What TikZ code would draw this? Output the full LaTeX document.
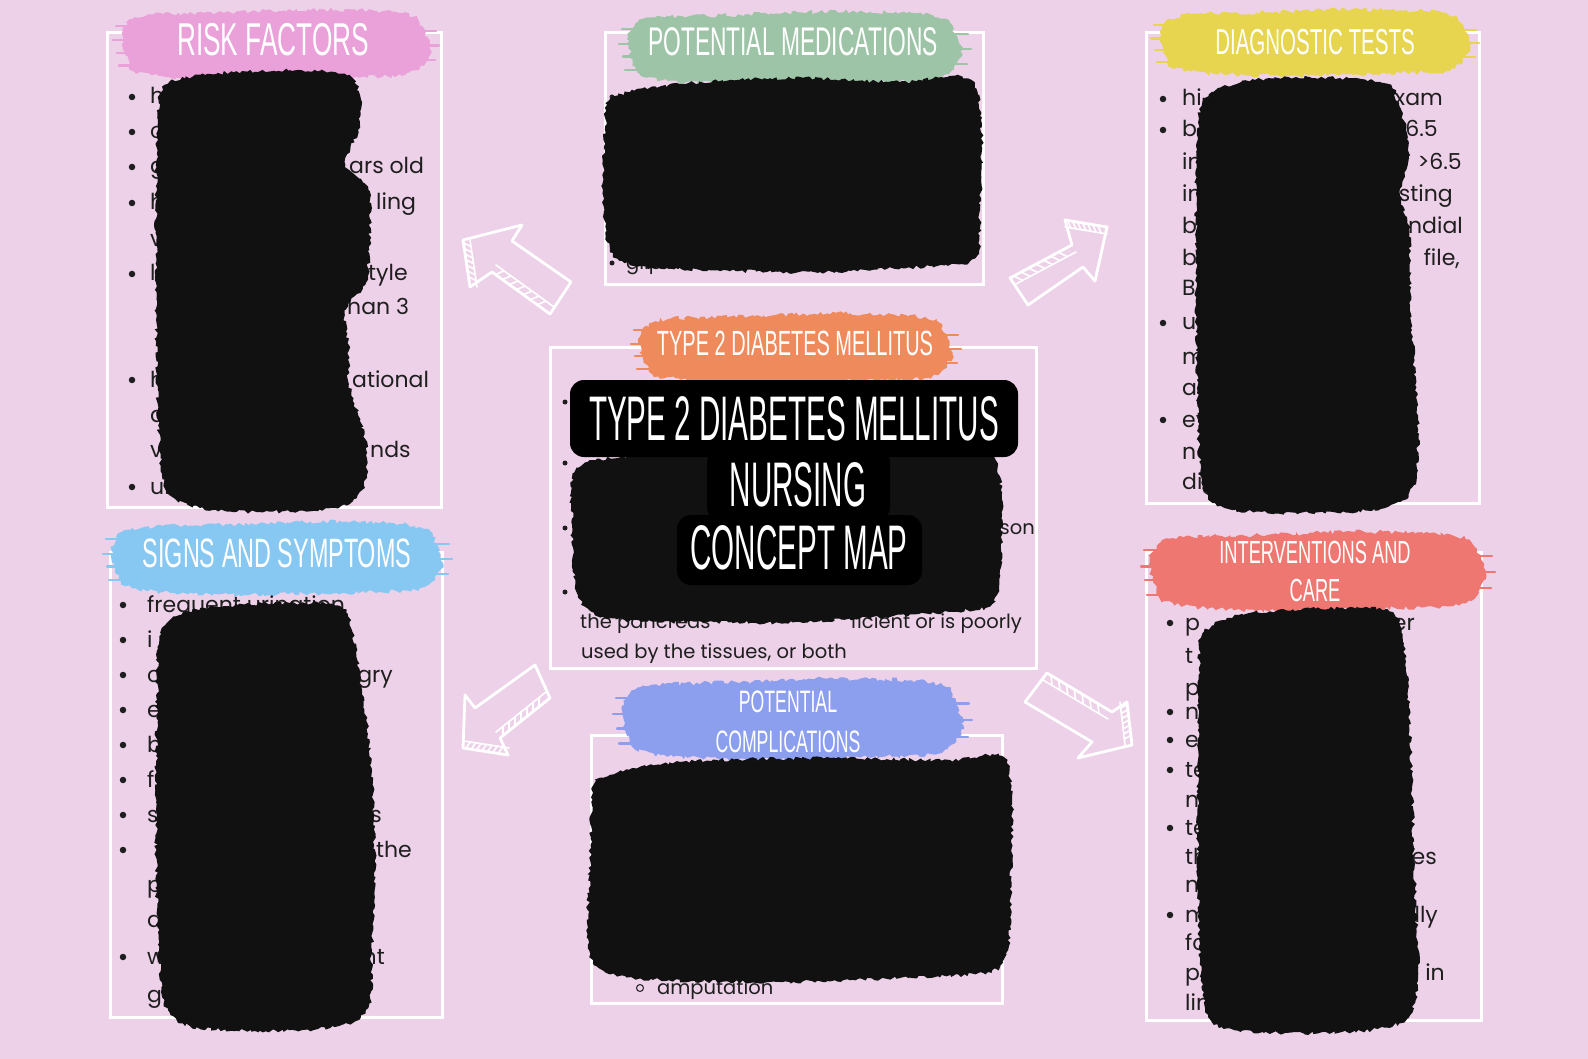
\documentclass[tikz,border=0pt]{standalone}
\usepackage{fontspec}
\usetikzlibrary{calc,decorations.pathmorphing}
\newfontfamily\bodyfont{Poppins}
\newfontfamily\headfont[FakeStretch=0.57]{Liberation Sans}
\newfontfamily\titlefont[FakeStretch=0.47]{Liberation Sans}
\definecolor{bg}{HTML}{EDD1E8}
\definecolor{ink}{HTML}{1E1E1E}
\definecolor{blobc}{HTML}{111111}
\definecolor{cpink}{HTML}{EAA0D8}
\definecolor{cgreen}{HTML}{9DC4A6}
\definecolor{cyellow}{HTML}{E7D54F}
\definecolor{corange}{HTML}{EE8A5B}
\definecolor{cblue}{HTML}{87C8F2}
\definecolor{cred}{HTML}{EE7771}
\definecolor{cperi}{HTML}{8C9EEE}
\newcommand\brush[5]{%
  \pgfmathsetmacro\bw{#4-#2}\pgfmathsetmacro\bh{#5-#3}%
  \fill[#1, rough] plot[smooth cycle, tension=0.3] coordinates {
    ({#2+0.00*\bw},{#3+0.35*\bh})
    ({#2+0.03*\bw},{#3+0.16*\bh})
    ({#2+0.10*\bw},{#3+0.09*\bh})
    ({#2+0.35*\bw},{#3+0.06*\bh})
    ({#2+0.60*\bw},{#3+0.02*\bh})
    ({#2+0.85*\bw},{#3+0.04*\bh})
    ({#2+0.95*\bw},{#3+0.12*\bh})
    ({#2+0.985*\bw},{#3+0.35*\bh})
    ({#2+1.00*\bw},{#3+0.58*\bh})
    ({#2+0.975*\bw},{#3+0.80*\bh})
    ({#2+0.92*\bw},{#3+0.93*\bh})
    ({#2+0.70*\bw},{#3+0.97*\bh})
    ({#2+0.40*\bw},{#3+1.00*\bh})
    ({#2+0.15*\bw},{#3+0.96*\bh})
    ({#2+0.04*\bw},{#3+0.88*\bh})
    ({#2+0.01*\bw},{#3+0.65*\bh})
  };
  \foreach \s/\a in {0.25/-6,0.45/-9,0.62/-5,0.80/-3}
    \draw[#1, line width=2.2pt, line cap=round] ({#2+\a},{#3+\s*\bh}) -- ({#2+22},{#3+\s*\bh});
  \foreach \s/\a in {0.32/6,0.52/9,0.72/5}
    \draw[#1, line width=2.2pt, line cap=round] ({#4+\a},{#3+\s*\bh}) -- ({#4-22},{#3+\s*\bh});
}
\newcommand\ahatch[4]{%
  \draw[athin] ($(#1)+(#3,#4)$) -- ($(#2)+(#3,#4)$);
  \foreach \t in {0.06,0.18,...,0.84}{\pgfmathsetmacro\u{\t+0.08}
    \draw[athin] ($(#1)!\t!(#2)$) -- ($(#1)!\u!(#2)+(#3,#4)$);}}
\begin{document}
\begin{tikzpicture}[x=1pt,y=-1pt,
  box/.style={draw=white, line width=3pt, inner sep=0pt},
  rough/.style={decorate, decoration={random steps, segment length=3pt, amplitude=2.2pt}},
  blob/.style={fill=blobc, decorate, decoration={random steps, segment length=3pt, amplitude=1.8pt}},
  head/.style n args={2}{text=white, inner sep=0pt, align=center, font=\headfont\fontsize{#1}{#2}\selectfont},
  fl/.style={font=\bodyfont\fontsize{22}{26}\selectfont, text=ink, inner sep=0pt, anchor=base west},
  fr/.style={font=\bodyfont\fontsize{22}{26}\selectfont, text=ink, inner sep=0pt, anchor=base east},
  cl/.style={font=\bodyfont\fontsize{19.5}{24}\selectfont, text=ink, inner sep=0pt, anchor=base west},
  cr/.style={font=\bodyfont\fontsize{19.5}{24}\selectfont, text=ink, inner sep=0pt, anchor=base east},
  bul/.style={circle, fill=ink, minimum size=6.5pt, inner sep=0pt},
  sbul/.style={circle, fill=ink, minimum size=5pt, inner sep=0pt},
  titlebox/.style={fill=black, rounded corners=14pt, inner sep=0pt},
  ttext/.style={text=white, inner sep=0pt, font=\titlefont\fontsize{63}{70}\selectfont},
  aline/.style={draw=white, line width=2.8pt, line join=round, line cap=round},
  athin/.style={draw=white, line width=1.6pt, line cap=round}]
\useasboundingbox (0,0) rectangle (1588,1059);
\pgfmathsetseed{11}
\fill[bg] (0,0) rectangle (1588,1059);

% ---- white frames
\node[box, minimum width=334pt, minimum height=474pt] (rf) at (274,270) {};
\node[box, minimum width=333pt, minimum height=470pt] (dt) at (1313,268) {};
\node[box, minimum width=378pt, minimum height=252pt] (pm) at (794,159) {};
\node[box, minimum width=486pt, minimum height=320pt] (t2) at (793,508) {};
\node[box, minimum width=332pt, minimum height=465pt] (ss) at (276,785) {};
\node[box, minimum width=335pt, minimum height=468pt] (ic) at (1314,786) {};
\node[box, minimum width=411pt, minimum height=268pt] (pc) at (797,869) {};

% ---- brush strokes
\brush{cpink}{122}{8}{430}{80}
\brush{cyellow}{1160}{8}{1470}{76}
\brush{cgreen}{628}{10}{962}{85}
\brush{corange}{640}{312}{952}{383}
\brush{cblue}{112}{520}{443}{595}
\brush{cred}{1150}{530}{1486}{611}
\brush{cperi}{622}{677}{963}{760}

% ---- headers
\node[head={46}{50}] (hrf) at (273,40) {RISK FACTORS};
\node[head={36}{40}] (hdt) at (1315,42) {DIAGNOSTIC TESTS};
\node[head={40}{44}] (hpm) at (793,42) {POTENTIAL MEDICATIONS};
\node[head={35}{38}] (ht2) at (795,343) {TYPE 2 DIABETES MELLITUS};
\node[head={41}{44}] (hss) at (277,553) {SIGNS AND SYMPTOMS};
\node[head={32}{38}] (hic) at (1315,571) {INTERVENTIONS AND\\CARE};
\node[head={31}{40}] (hpc) at (788,722) {POTENTIAL\\COMPLICATIONS};

% ---- risk factors fragments
\foreach \i/\y in {1/97,2/132,3/167,4/203,5/274,6/380,7/487}
  \node[bul] (rfb\i) at (132,\y) {};
\node[fl] (rf1) at (150,104) {h};
\node[fl] (rf2) at (150,139) {c};
\node[fl] (rf3) at (150,174) {g};
\node[fl] (rf3b) at (349,174) {ars old};
\node[fl] (rf4) at (150,210) {h};
\node[fl] (rf4b) at (376,210) {ling};
\node[fl] (rf5) at (150,247) {v};
\node[fl] (rf6) at (150,281) {l};
\node[fl] (rf6b) at (368,281) {tyle};
\node[fl] (rf7b) at (347,315) {han 3};
\node[fl] (rf8) at (150,387) {h};
\node[fl] (rf8b) at (352,387) {ational};
\node[fl] (rf9) at (150,422) {d};
\node[fl] (rf10) at (150,457) {v};
\node[fl] (rf10b) at (370,457) {nds};
\node[fl] (rf11) at (150,494) {un};

% ---- diagnostic tests fragments
\foreach \i/\y in {1/99,2/130,3/323,4/420}
  \node[bul] (dtb\i) at (1163,\y) {};
\node[fl] (dt1) at (1182,106) {hi};
\node[fr] (dt1b) at (1443,106) {exam};
\node[fl] (dt2) at (1182,137) {b};
\node[fr] (dt2b) at (1438,137) {6.5};
\node[fl] (dt3) at (1182,170) {in};
\node[fr] (dt3b) at (1462,170) {>6.5};
\node[fl] (dt4) at (1182,202) {in};
\node[fr] (dt4b) at (1453,202) {sting};
\node[fl] (dt5) at (1182,234) {bl};
\node[fr] (dt5b) at (1463,234) {ndial};
\node[fl] (dt6) at (1182,266) {b};
\node[fr] (dt6b) at (1460,266) {file,};
\node[fl] (dt7) at (1182,296) {B};
\node[fl] (dt8) at (1182,330) {u};
\node[fl] (dt9) at (1182,364) {m};
\node[fl] (dt10) at (1182,395) {ac};
\node[fl] (dt11) at (1182,427) {ey};
\node[fl] (dt12) at (1182,459) {ne};
\node[fl] (dt13) at (1182,489) {dig};

% ---- signs and symptoms fragments
\foreach \i/\y in {1/605,2/640,3/675,4/710,5/745,6/780,7/815,8/850,9/957}
  \node[bul] (ssb\i) at (123,\y) {};
\node[fl] (ss1) at (147,612) {frequent urination};
\node[fl] (ss2) at (147,647) {i};
\node[fl] (ss3) at (147,682) {c};
\node[fr] (ss3b) at (393,682) {gry};
\node[fl] (ss4) at (147,717) {e};
\node[fl] (ss5) at (147,752) {b};
\node[fl] (ss6) at (147,787) {f};
\node[fl] (ss7) at (147,822) {s};
\node[fr] (ss7b) at (382,822) {s};
\node[fr] (ss8b) at (412,857) {the};
\node[fl] (ss9) at (147,892) {p};
\node[fl] (ss10) at (147,927) {a};
\node[fl] (ss11) at (147,964) {w};
\node[fr] (ss11b) at (385,964) {nt};
\node[fl] (ss12) at (147,1002) {g};

% ---- interventions fragments
\foreach \i/\y in {1/623,2/712,3/740,4/770,5/828,6/915}
  \node[bul] (icb\i) at (1170,\y) {};
\node[fl] (ic1) at (1185,630) {p};
\node[fr] (ic1b) at (1415,630) {er};
\node[fl] (ic2) at (1185,663) {t};
\node[fl] (ic3) at (1185,695) {p};
\node[fl] (ic4) at (1185,719) {nu};
\node[fl] (ic5) at (1185,747) {ex};
\node[fl] (ic6) at (1185,777) {te};
\node[fl] (ic7) at (1185,807) {m};
\node[fl] (ic8) at (1185,835) {te};
\node[fl] (ic9) at (1185,864) {th};
\node[fr] (ic9b) at (1437,864) {es};
\node[fl] (ic10) at (1185,892) {m};
\node[fl] (ic11) at (1185,922) {m};
\node[fr] (ic11b) at (1438,922) {lly};
\node[fl] (ic12) at (1185,950) {foc};
\node[fl] (ic13) at (1185,980) {pe};
\node[fr] (ic13b) at (1445,980) {in};
\node[fl] (ic14) at (1185,1010) {lim};

% ---- center box fragments
\foreach \i/\y in {1/402,2/463,3/528,4/592}
  \node[sbul] (cbb\i) at (565,\y) {};
\node[cl] (c1) at (580,407) {f};
\node[cr] (c2) at (1035,534) {son};
\node[cl] (c3) at (580,628) {the pancreas};
\node[cr] (c3b) at (1022,628) {ficient or is poorly};
\node[cl] (c4) at (581,658) {used by the tissues, or both};

% ---- medications / complications fragments
\node[sbul] (pmb1) at (612,97) {};
\node[sbul] (pmb2) at (612,263) {};
\node[cl] (pm1) at (626,270) {glipizide};
\node[circle, draw=ink, line width=1pt, minimum size=7pt, inner sep=0pt] (pcb) at (640,988) {};
\node[cl] (pc1) at (657,994) {amputation};

% ---- black blobs
\fill[blob] plot[smooth cycle, tension=0.5] coordinates {(165,85) (210,74) (290,70) (345,74) (360,95) (358,130) (346,165) (368,190) (370,240) (365,285) (345,310) (349,350) (349,384) (360,420) (367,453) (362,490) (335,508) (260,512) (200,508) (166,490) (158,420) (156,320) (156,200) (158,120)};
\fill[blob] plot[smooth cycle, tension=0.5] coordinates {(1205,98) (1255,80) (1340,78) (1388,84) (1396,100) (1406,130) (1408,163) (1400,195) (1410,227) (1410,259) (1412,330) (1418,420) (1414,485) (1385,508) (1300,513) (1225,508) (1202,480) (1197,380) (1196,260) (1197,150)};
\fill[blob] plot[smooth cycle, tension=0.5] coordinates {(612,98) (680,84) (790,78) (900,82) (955,76) (976,88) (982,140) (980,210) (975,258) (930,266) (820,272) (700,270) (640,266) (610,250) (603,190) (605,130)};
\fill[blob] plot[smooth cycle, tension=0.5] coordinates {(578,468) (650,454) (800,448) (950,450) (992,456) (1002,500) (1000,570) (992,604) (950,612) (800,622) (680,622) (605,618) (578,595) (572,525)};
\fill[blob] plot[smooth cycle, tension=0.5] coordinates {(162,628) (205,608) (290,603) (340,606) (352,630) (362,690) (372,770) (375,860) (372,950) (368,1008) (335,1027) (255,1031) (190,1026) (164,1002) (157,910) (156,810) (157,700)};
\fill[blob] plot[smooth cycle, tension=0.5] coordinates {(1204,632) (1250,613) (1360,608) (1398,618) (1408,690) (1412,790) (1415,890) (1418,965) (1410,1015) (1372,1030) (1285,1033) (1218,1026) (1202,990) (1198,890) (1198,760) (1199,670)};
\fill[blob] plot[smooth cycle, tension=0.5] coordinates {(600,778) (680,762) (830,758) (950,760) (1002,756) (1012,800) (1011,880) (1008,950) (988,972) (900,978) (780,982) (660,980) (605,972) (588,945) (590,860) (592,805)};

% ---- title
\node[titlebox, minimum width=245pt, minimum height=70pt] (tb3) at (799.5,550) {};
\node[titlebox, minimum width=183pt, minimum height=72pt] (tb2) at (798.5,485) {};
\node[titlebox, minimum width=448pt, minimum height=77pt] (tb1) at (794,418.5) {};
\node[ttext] (tt1) at (tb1.center) {TYPE 2 DIABETES MELLITUS};
\node[ttext] (tt2) at (798,485) {NURSING};
\node[ttext] (tt3) at (799,548) {CONCEPT MAP};

% ---- sketchy arrows
\coordinate (a1tip) at (463,240); \coordinate (a1b1) at (522,225);
\coordinate (a1n1) at (512,241); \coordinate (a1t1) at (571,282);
\coordinate (a1t2) at (550,314); \coordinate (a1n2) at (492,272);
\coordinate (a1b2) at (470,287);
\draw[aline] (a1tip) -- (a1b1) -- (a1n1) -- (a1t1) -- (a1t2) -- (a1n2) -- (a1b2) -- cycle;
\ahatch{a1n2}{a1t2}{4}{-7}
\ahatch{a1tip}{a1b2}{7}{0}
\coordinate (a2b1) at (1065,220); \coordinate (a2tip) at (1107,227);
\coordinate (a2b2) at (1095,281); \coordinate (a2n2) at (1083,267);
\coordinate (a2t2) at (1028,305); \coordinate (a2t1) at (1010,278);
\coordinate (a2n1) at (1072,245);
\draw[aline] (a2tip) -- (a2b2) -- (a2n2) -- (a2t2) -- (a2t1) -- (a2n1) -- (a2b1) -- cycle;
\ahatch{a2t1}{a2n1}{4}{7}
\ahatch{a2b1}{a2tip}{0}{7}
\coordinate (a3b1) at (465,695); \coordinate (a3tip) at (463,748);
\coordinate (a3b2) at (508,755); \coordinate (a3n2) at (500,738);
\coordinate (a3t2) at (550,698); \coordinate (a3t1) at (535,665);
\coordinate (a3n1) at (475,708);
\draw[aline] (a3tip) -- (a3b2) -- (a3n2) -- (a3t2) -- (a3t1) -- (a3n1) -- (a3b1) -- cycle;
\ahatch{a3n2}{a3t2}{-4}{-6}
\ahatch{a3tip}{a3b2}{1}{-7}
\coordinate (a4t1) at (1047,673); \coordinate (a4n1) at (1112,712);
\coordinate (a4b1) at (1127,702); \coordinate (a4tip) at (1132,745);
\coordinate (a4b2) at (1078,758); \coordinate (a4n2) at (1092,742);
\coordinate (a4t2) at (1025,702);
\draw[aline] (a4tip) -- (a4b2) -- (a4n2) -- (a4t2) -- (a4t1) -- (a4n1) -- (a4b1) -- cycle;
\ahatch{a4t1}{a4n1}{-4}{7}
\ahatch{a4b1}{a4tip}{-7}{0}
\end{tikzpicture}
\end{document}
